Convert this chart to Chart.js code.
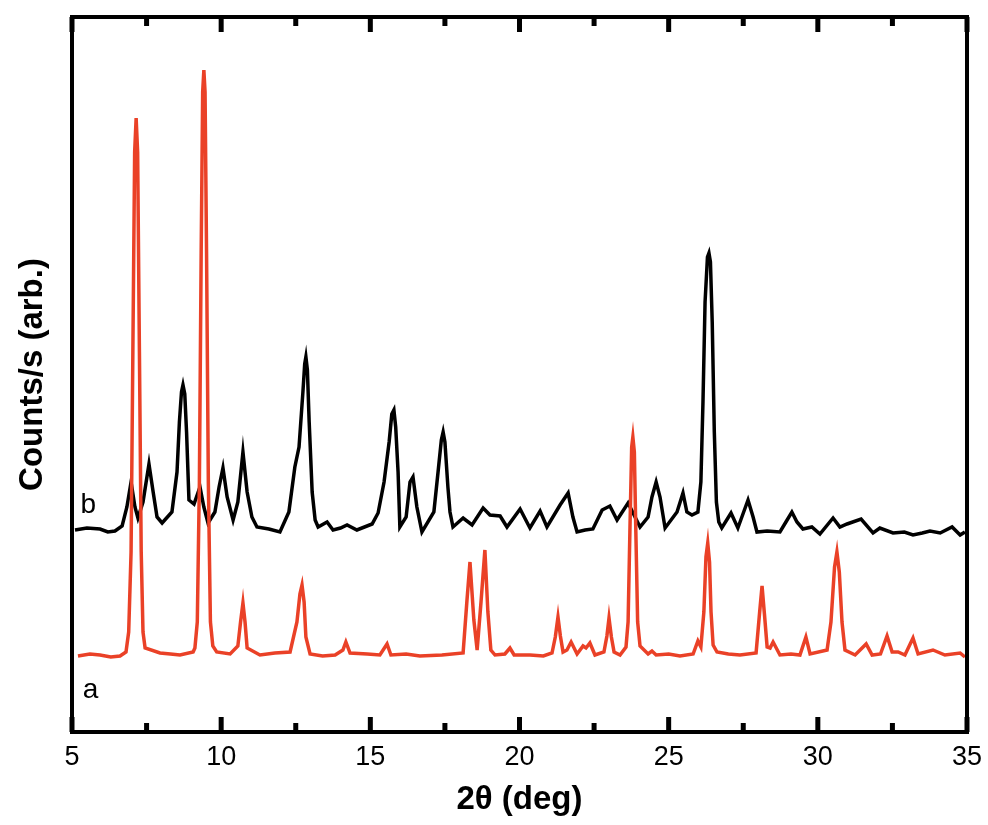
<!DOCTYPE html>
<html>
<head>
<meta charset="utf-8">
<title>XRD patterns a and b</title>
<script src="https://cdn.jsdelivr.net/npm/chart.js@4.4.1/dist/chart.umd.min.js"></script>
<style>
  html, body { margin: 0; padding: 0; background: #ffffff; }
  #wrap { width: 988px; height: 825px; }
</style>
</head>
<body>
<div id="wrap"><canvas id="xrd" width="988" height="825"></canvas></div>
<script>
// 2-theta axis ticks
const xTicks = [5, 10, 15, 20, 25, 30, 35];
const xMinorTicks = [7.5, 12.5, 17.5, 22.5, 27.5, 32.5];

// trace a (red)
const angleA = [5.20, 5.60, 5.94, 6.30, 6.61, 6.81, 6.90, 6.98, 7.04, 7.10, 7.15, 7.20, 7.26, 7.32, 7.38, 7.45, 7.95, 8.30, 8.62,
  9.06, 9.12, 9.20, 9.27, 9.33, 9.38, 9.42, 9.46, 9.51, 9.57, 9.64, 9.72, 9.85,
  10.30, 10.56, 10.65, 10.73, 10.80, 10.87, 11.30, 11.80, 12.31, 12.54, 12.64, 12.71, 12.78, 12.84, 12.98, 13.40, 13.82, 14.08, 14.18, 14.32,
  14.90, 15.32, 15.56, 15.69, 16.20, 16.66, 17.40, 18.11, 18.24, 18.34, 18.47, 18.58, 18.71, 18.84, 18.94, 19.04, 19.18, 19.51, 19.68, 19.82,
  20.35, 20.80, 21.09, 21.20, 21.29, 21.37, 21.46, 21.59, 21.73, 21.93, 22.13, 22.23, 22.36, 22.53, 22.83, 22.93, 23.00, 23.08, 23.17,
  23.37, 23.57, 23.64, 23.70, 23.76, 23.80, 23.85, 23.90, 23.96, 24.04, 24.31, 24.44, 24.58, 25.00, 25.38, 25.82, 25.98, 26.08,
  26.18, 26.25, 26.31, 26.37, 26.42, 26.49, 26.62, 27.00, 27.39, 27.93, 28.05, 28.13, 28.21, 28.30, 28.40, 28.50, 28.73, 29.10,
  29.40, 29.60, 29.74, 30.31, 30.44, 30.56, 30.64, 30.72, 30.81, 30.91, 31.25, 31.62, 31.82, 32.10, 32.32, 32.49, 32.69, 32.92,
  33.19, 33.36, 33.86, 34.26, 34.77, 34.93];
const countsA = [76, 78, 77, 75, 76, 80, 100, 180, 380, 580, 614, 580, 380, 180, 100, 84, 79, 78, 77,
  80, 84, 110, 250, 480, 640, 662, 640, 480, 250, 110, 86, 80,
  78, 86, 110, 129, 110, 84, 77, 79, 80, 110, 138, 147, 130, 95, 78, 76, 77, 82, 90, 79,
  78, 77, 88, 77, 78, 76, 77, 79, 132, 170, 112, 82, 130, 182, 120, 82, 77, 78, 84, 77,
  77, 76, 79, 95, 115, 96, 80, 82, 90, 78, 86, 84, 89, 77, 80, 96, 114, 95, 80,
  77, 85, 110, 200, 285, 295, 280, 200, 110, 86, 78, 81, 77, 78, 76, 78, 91, 85,
  120, 175, 189, 170, 120, 87, 80, 78, 77, 79, 120, 146, 118, 85, 84, 90, 77, 78,
  77, 95, 78, 82, 110, 165, 180, 160, 110, 82, 77, 88, 77, 78, 96, 80, 80, 77,
  94, 78, 82, 77, 79, 75];

// trace b (black)
const angleB = [5.10, 5.50, 5.94, 6.20, 6.44, 6.68, 6.84, 6.98, 7.11, 7.21, 7.38, 7.58, 7.72, 7.85, 8.02, 8.35, 8.52, 8.60, 8.67, 8.72,
  8.78, 8.84, 8.92, 9.09, 9.29, 9.42, 9.56, 9.79, 9.93, 10.06, 10.20, 10.40, 10.56, 10.73, 10.87, 11.03, 11.20, 11.60, 11.97, 12.27,
  12.47, 12.61, 12.74, 12.80, 12.84, 12.89, 12.95, 13.05, 13.15, 13.25, 13.55, 13.75, 14.00, 14.22, 14.55, 15.06, 15.26, 15.46,
  15.63, 15.72, 15.79, 15.85, 15.93, 15.99, 16.20, 16.33, 16.43, 16.56, 16.73, 17.13, 17.27, 17.38, 17.44, 17.50, 17.60, 17.67,
  17.77, 18.11, 18.41, 18.78, 19.01, 19.35, 19.58, 20.02, 20.35, 20.69, 20.92, 21.36, 21.63, 21.79, 21.93, 22.20, 22.46, 22.77,
  23.03, 23.27, 23.64, 24.04, 24.31, 24.44, 24.58, 24.71, 24.88, 25.28, 25.48, 25.61, 25.78, 25.98, 26.08, 26.15, 26.22, 26.30,
  26.35, 26.40, 26.46, 26.53, 26.60, 26.68, 26.78, 27.09, 27.32, 27.66, 27.83, 27.96, 28.30, 28.73, 28.93, 29.13, 29.30, 29.50,
  29.80, 30.07, 30.51, 30.74, 30.98, 31.45, 31.85, 32.08, 32.52, 32.90, 33.19, 33.50, 33.76, 34.10, 34.50, 34.77, 34.93];
const countsB = [202, 204, 203, 200, 201, 206, 225, 250, 225, 214, 230, 268, 240, 215, 209, 220, 260, 310, 340, 347,
  338, 300, 232, 228, 245, 225, 209, 220, 245, 264, 235, 212, 230, 280, 240, 215, 205, 203, 200, 220,
  265, 285, 340, 368, 375, 362, 310, 240, 212, 205, 210, 202, 204, 207, 202, 208, 219, 250,
  290, 318, 322, 305, 260, 205, 215, 250, 255, 225, 200, 220, 260, 292, 300, 290, 245, 220,
  205, 214, 207, 224, 217, 216, 205, 223, 204, 221, 205, 227, 239, 215, 200, 202, 203, 222,
  226, 212, 229, 205, 215, 235, 250, 235, 204, 220, 239, 220, 217, 220, 250, 330, 430, 475,
  479, 470, 410, 300, 230, 210, 204, 219, 204, 232, 215, 200, 201, 200, 210, 220, 210, 203,
  205, 198, 214, 205, 208, 213, 199, 204, 199, 200, 197, 199, 201, 199, 205, 197, 200];

// trace labels: [text, angle, counts]
const traceLabels = [['a', 5.62, 42], ['b', 5.55, 227]];

const RED = '#ea4127';
const FONT = "'Liberation Sans', Arial, Helvetica, sans-serif";

const toPoints = (xs, ys) => xs.map((x, i) => ({ x: x, y: ys[i] }));

// frame, inward ticks (top and bottom) and the a/b labels
const framePlugin = {
  id: 'frame',
  afterDraw(chart) {
    const { ctx, chartArea: a, scales } = chart;
    const xs = scales.x, ys = scales.y;
    ctx.save();
    ctx.strokeStyle = '#000';
    ctx.lineCap = 'butt';
    const tick = (v, len) => {
      const px = xs.getPixelForValue(v);
      ctx.beginPath();
      ctx.moveTo(px, a.bottom); ctx.lineTo(px, a.bottom - len);
      ctx.moveTo(px, a.top); ctx.lineTo(px, a.top + len);
      ctx.stroke();
    };
    ctx.lineWidth = 5;
    xTicks.forEach(v => tick(v, 15));
    xMinorTicks.forEach(v => tick(v, 9));
    ctx.lineWidth = 4;
    ctx.strokeRect(a.left, a.top, a.right - a.left, a.bottom - a.top);

    ctx.fillStyle = '#000';
    ctx.font = '28px ' + FONT;
    ctx.textAlign = 'center';
    ctx.textBaseline = 'middle';
    traceLabels.forEach(([t, x, y]) => ctx.fillText(t, xs.getPixelForValue(x), ys.getPixelForValue(y)));
    ctx.restore();
  }
};

new Chart(document.getElementById('xrd'), {
  type: 'scatter',
  data: {
    datasets: [
      { label: 'a', data: toPoints(angleA, countsA), showLine: true, borderColor: RED, borderWidth: 3.5, pointRadius: 0, tension: 0 },
      { label: 'b', data: toPoints(angleB, countsB), showLine: true, borderColor: '#000', borderWidth: 3.5, pointRadius: 0, tension: 0 }
    ]
  },
  options: {
    responsive: false,
    animation: false,
    layout: { padding: { top: 17, right: 21, left: 0, bottom: 0 } },
    plugins: { legend: { display: false }, tooltip: { enabled: false } },
    scales: {
      x: {
        type: 'linear', min: 5, max: 35,
        afterFit: (s) => { s.height = 93; s.paddingLeft = 0; s.paddingRight = 0; },
        afterBuildTicks: (s) => { s.ticks = xTicks.map(v => ({ value: v })); },
        grid: { display: false, drawTicks: false },
        border: { display: false },
        ticks: { color: '#000', font: { family: FONT, size: 27 }, padding: 9, maxRotation: 0 },
        title: { display: true, text: '2θ (deg)', color: '#000', font: { family: FONT, size: 33, weight: 'bold' }, padding: { top: 0, bottom: 5 } }
      },
      y: {
        type: 'linear', min: 0, max: 715,
        afterFit: (s) => { s.width = 72; },
        grid: { display: false, drawTicks: false },
        border: { display: false },
        ticks: { display: false },
        title: { display: true, text: 'Counts/s (arb.)', color: '#000', font: { family: FONT, size: 33, weight: 'bold' }, padding: { top: 13, bottom: 0 } }
      }
    }
  },
  plugins: [framePlugin]
});
</script>
</body>
</html>
